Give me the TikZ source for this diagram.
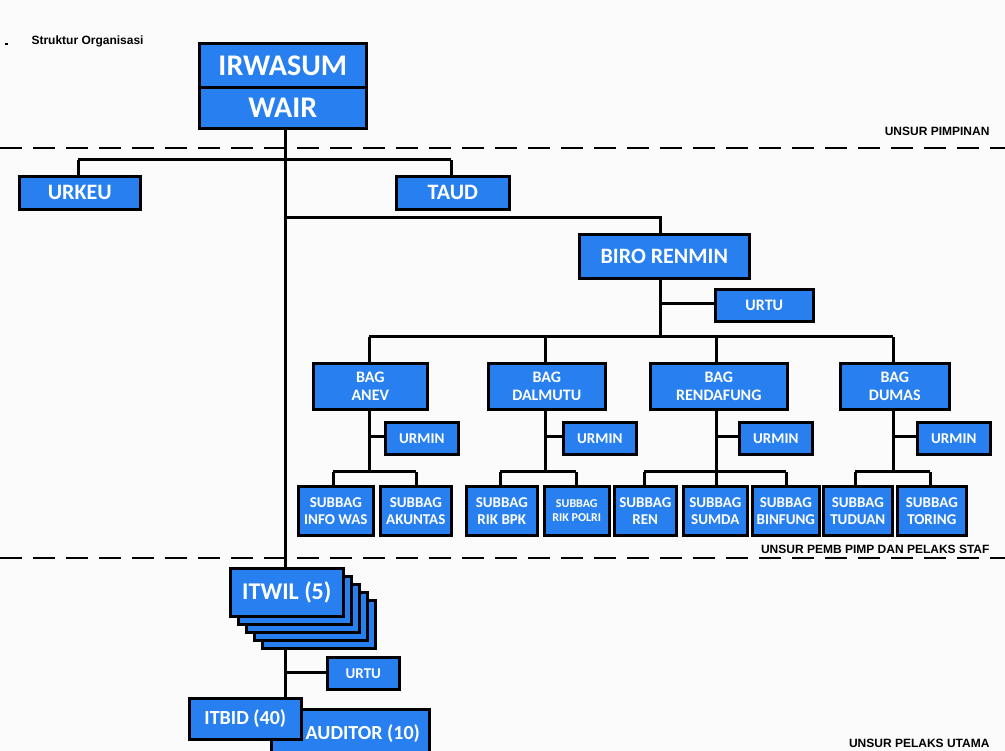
\documentclass[tikz,border=0pt]{standalone}
\usepackage{fontspec}
\setmainfont{Carlito}
\newfontfamily\arialf{Liberation Sans}
\definecolor{bx}{RGB}{40,128,240}
\begin{document}
\begin{tikzpicture}[x=1pt,y=-1pt,
 box/.style={draw=black,line width=2.6pt,fill=bx,text=white,font=\bfseries,align=center,inner sep=0pt,anchor=north west,execute at begin node={\setlength{\baselineskip}{1.15em}}},
 ln/.style={line width=3pt},
 dl/.style={line width=2.2pt,dash pattern=on 22pt off 11pt},
 lab/.style={font=\arialf\bfseries\fontsize{12}{12}\selectfont,anchor=base east}]
\useasboundingbox[fill=white!97!gray] (0,0) rectangle (1005,751);
\newcommand{\bxn}[6]{\node[box,minimum width=#4-#2,minimum height=#5-#3,font=\bfseries#6] (#1) at (#2,#3) {};}
% dashed lines
\draw[dl] (0,148) -- (1005,148);
\draw[dl] (0,558) -- (1005,558);
\node[lab] at (993,136) {UNSUR PIMPINAN};
\node[lab] at (993,553) {UNSUR PEMB PIMP DAN PELAKS STAF};
\node[lab] at (993,747) {UNSUR PELAKS UTAMA};
\node[font=\arialf\bfseries\fontsize{12}{12}\selectfont,anchor=base west] (title) at (28,45) {Struktur Organisasi};
\fill (5,43) rectangle (8,45);
% coordinates
\coordinate (c1) at (285,160); \coordinate (c1a) at (78,160); \coordinate (c1b) at (451,160);
\coordinate (c2) at (285,218); \coordinate (c2a) at (660,218);
\coordinate (u1) at (660,304);
\coordinate (h) at (660,337); \coordinate (ha) at (369,337); \coordinate (hb) at (893,337);
% top
\draw[ln] (285,127) -- (285,570);
\draw[ln] (c1a) -- (c1b); \draw[ln] (c1a) -- (78,177); \draw[ln] (c1b) -- (451,177);
\draw[ln] (c2) -- (c2a) -- (660,235);
\draw[ln] (660,277) -- (h);
\draw[ln] (u1) -- (716,304);
\draw[ln] (ha) -- (hb);
\foreach \x in {369,545,716,893} \draw[ln] (\x,337) -- (\x,364);
% BAG to subbags
\foreach \c/\a/\b/\u in {369/333/416/384,545/500/576/562,716/644/786/738,893/855/930/916}{
 \draw[ln] (\c,408) -- (\c,472);
 \draw[ln] (\a,472) -- (\b,472);
 \draw[ln] (\a,472) -- (\a,487); \draw[ln] (\b,472) -- (\b,487);
 \draw[ln] (\c,437) -- (\u,437);}
\draw[ln] (716,472) -- (716,487);
% boxes
\node[box,minimum width=167,minimum height=44,font=\bfseries\fontsize{30}{30}\selectfont] (irw) at (198,42) {IRWASUM};
\node[box,minimum width=167,minimum height=41,font=\bfseries\fontsize{30}{30}\selectfont] (wair) at (198,86) {WAIR};
\node[box,minimum width=121,minimum height=33,font=\bfseries\fontsize{22}{22}\selectfont] (urkeu) at (18,175) {URKEU};
\node[box,minimum width=113,minimum height=33,font=\bfseries\fontsize{22}{22}\selectfont] (taud) at (395,175) {TAUD};
\node[box,minimum width=170,minimum height=44,font=\bfseries\fontsize{22}{22}\selectfont] (biro) at (578,233) {BIRO RENMIN};
\node[box,minimum width=98,minimum height=32,font=\bfseries\fontsize{16}{16}\selectfont] (urtu) at (714,288) {URTU};
\foreach \n/\x/\w/\t in {anev/312/114/ANEV,dal/487/117/DALMUTU,ren/649/137/RENDAFUNG,dum/839/109/DUMAS}
 \node[box,minimum width=\w,minimum height=46,font=\bfseries\fontsize{16}{16}\selectfont] (\n) at (\x,362) {BAG\\\t};
\foreach \n/\x in {um1/384,um2/562,um3/738,um4/916}
 \node[box,minimum width=73,minimum height=32,font=\bfseries\fontsize{15}{15}\selectfont] (\n) at (\x,421) {URMIN};
\foreach \n/\x/\w/\t in {s1/297/75/INFO WAS,s2/379/71/AKUNTAS,s3/465/71/RIK BPK,s5/613/62/REN,s6/682/64/SUMDA,s7/751/67/BINFUNG,s8/822/69/TUDUAN,s9/896/69/TORING}
 \node[box,minimum width=\w,minimum height=49,font=\bfseries\fontsize{15}{15}\selectfont] (\n) at (\x,485) {SUBBAG\\\t};
\node[box,minimum width=65,minimum height=49,font=\bfseries\fontsize{12}{12}\selectfont] (s4) at (543,485) {SUBBAG\\RIK POLRI};
% ITWIL stack
\foreach \i in {4,3,2,1}
 \node[box,minimum width=113,minimum height=48] (itw\i) at (229+8*\i,567+8*\i) {};
\node[box,minimum width=113,minimum height=48,font=\bfseries\fontsize{24}{24}\selectfont] (itwil) at (229,567) {ITWIL (5)};
\draw[ln] (285,648) -- (285,699);
\draw[ln] (285,672) -- (326,672);
\node[box,minimum width=72,minimum height=32,font=\bfseries\fontsize{15}{15}\selectfont] (urtu2) at (326,656) {URTU};
\node[box,minimum width=158,minimum height=45,font=\bfseries\fontsize{20}{20}\selectfont,text depth=0pt] (aud) at (270,708) {\hspace*{25pt}AUDITOR (10)};
\node[box,minimum width=112,minimum height=41,font=\bfseries\fontsize{20}{20}\selectfont] (itbid) at (188,697) {ITBID (40)};
\end{tikzpicture}
\end{document}
